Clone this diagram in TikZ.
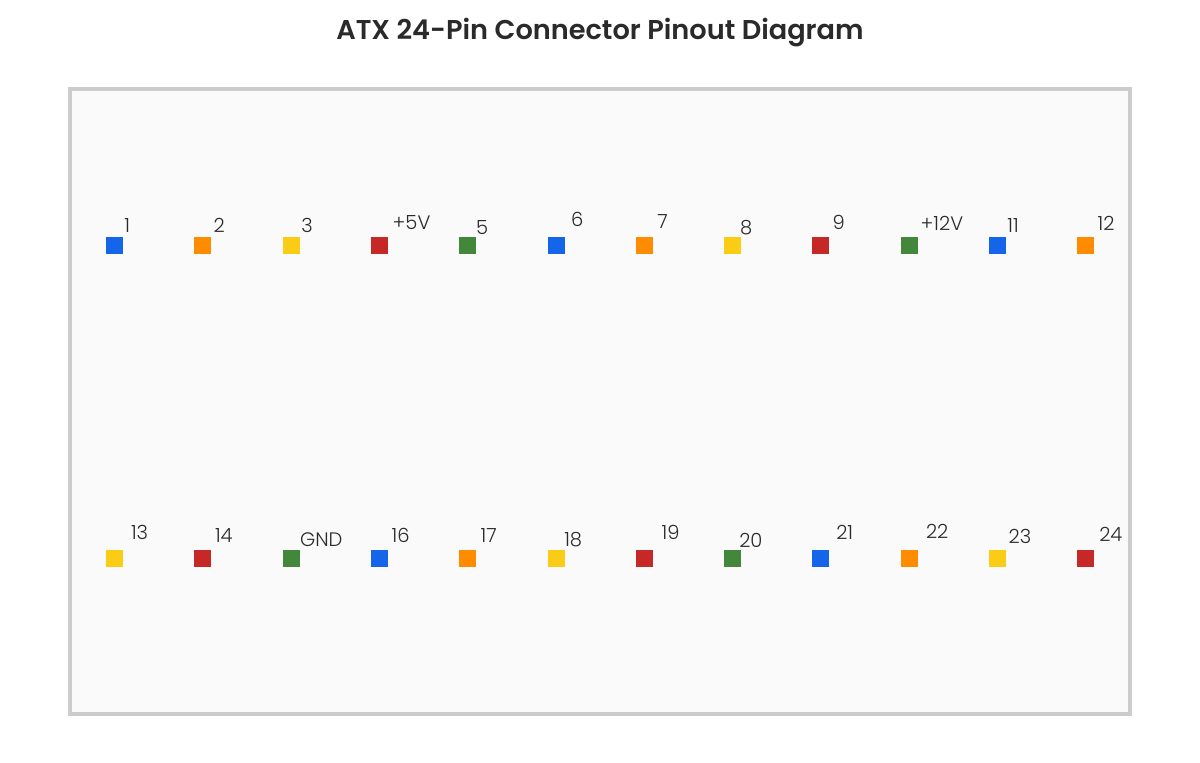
\documentclass[tikz,border=0pt]{standalone}
\usepackage{fontspec}
\setmainfont{Poppins}
\newfontfamily\lblfont{Poppins Light}
\newfontfamily\ttlfont{Poppins SemiBold}
\begin{document}
\begin{tikzpicture}[x=1pt,y=-1pt,
  pin/.style={draw=none,minimum size=17pt,inner sep=0pt,outer sep=0pt},
  lbl/.style={anchor=base west,inner sep=0pt,outer sep=0pt,text=txt,font=\lblfont\fontsize{19.5}{19.5}\selectfont},
]
\definecolor{txt}{HTML}{2A2A2A}
\definecolor{frameC}{HTML}{CCCCCC}
\definecolor{bgC}{HTML}{FAFAFA}
\definecolor{pB}{HTML}{1565EA}
\definecolor{pO}{HTML}{FF8C00}
\definecolor{pY}{HTML}{FACC15}
\definecolor{pR}{HTML}{C62828}
\definecolor{pG}{HTML}{43883A}
\useasboundingbox (0,0) rectangle (1200,763);
\fill[white] (0,0) rectangle (1200,763);
\node[anchor=base,inner sep=0pt,text=txt,font=\ttlfont\fontsize{27.2}{27.2}\selectfont] (title) at (600,39) {ATX 24-Pin Connector Pinout Diagram};
\draw[frameC,line width=3.5pt,fill=bgC] (70,89) rectangle (1130,714);
% top row
\foreach \i/\x/\c/\t/\lx/\ly in {
 1/114.5/pB/1/124.3/232.3,
 2/202.8/pO/2/213.7/232.3,
 3/291.1/pY/3/301.3/232.3,
 4/379.4/pR/+5V/392.7/229.3,
 5/467.7/pG/5/476/234,
 6/556/pB/6/571/226.7,
 7/644.3/pO/7/657.3/228.7,
 8/732.6/pY/8/740/234.7,
 9/820.9/pR/9/832.7/229.6,
 10/909.2/pG/+12V/920.7/230,
 11/997.5/pB/11/1007.3/232.3,
 12/1085.8/pO/12/1097.7/230}{
  \node[pin,fill=\c] (p\i) at (\x,245) {};
  \node[lbl] (l\i) at (\lx,\ly) {\t};
}
% bottom row
\foreach \i/\x/\c/\t/\lx/\ly in {
 13/114.5/pY/13/131/539.3,
 14/202.8/pR/14/215/542.7,
 15/291.1/pG/GND/300/546.7,
 16/379.4/pB/16/391.7/542.7,
 17/467.7/pO/17/480.7/542.7,
 18/556/pY/18/564.3/546.7,
 19/644.3/pR/19/661.7/539.3,
 20/732.6/pG/20/739.3/547.3,
 21/820.9/pB/21/836.3/539.3,
 22/909.2/pO/22/926/538.3,
 23/997.5/pY/23/1008.7/543.3,
 24/1085.8/pR/24/1099.3/541}{
  \node[pin,fill=\c] (p\i) at (\x,558) {};
  \node[lbl] (l\i) at (\lx,\ly) {\t};
}
\end{tikzpicture}
\end{document}
